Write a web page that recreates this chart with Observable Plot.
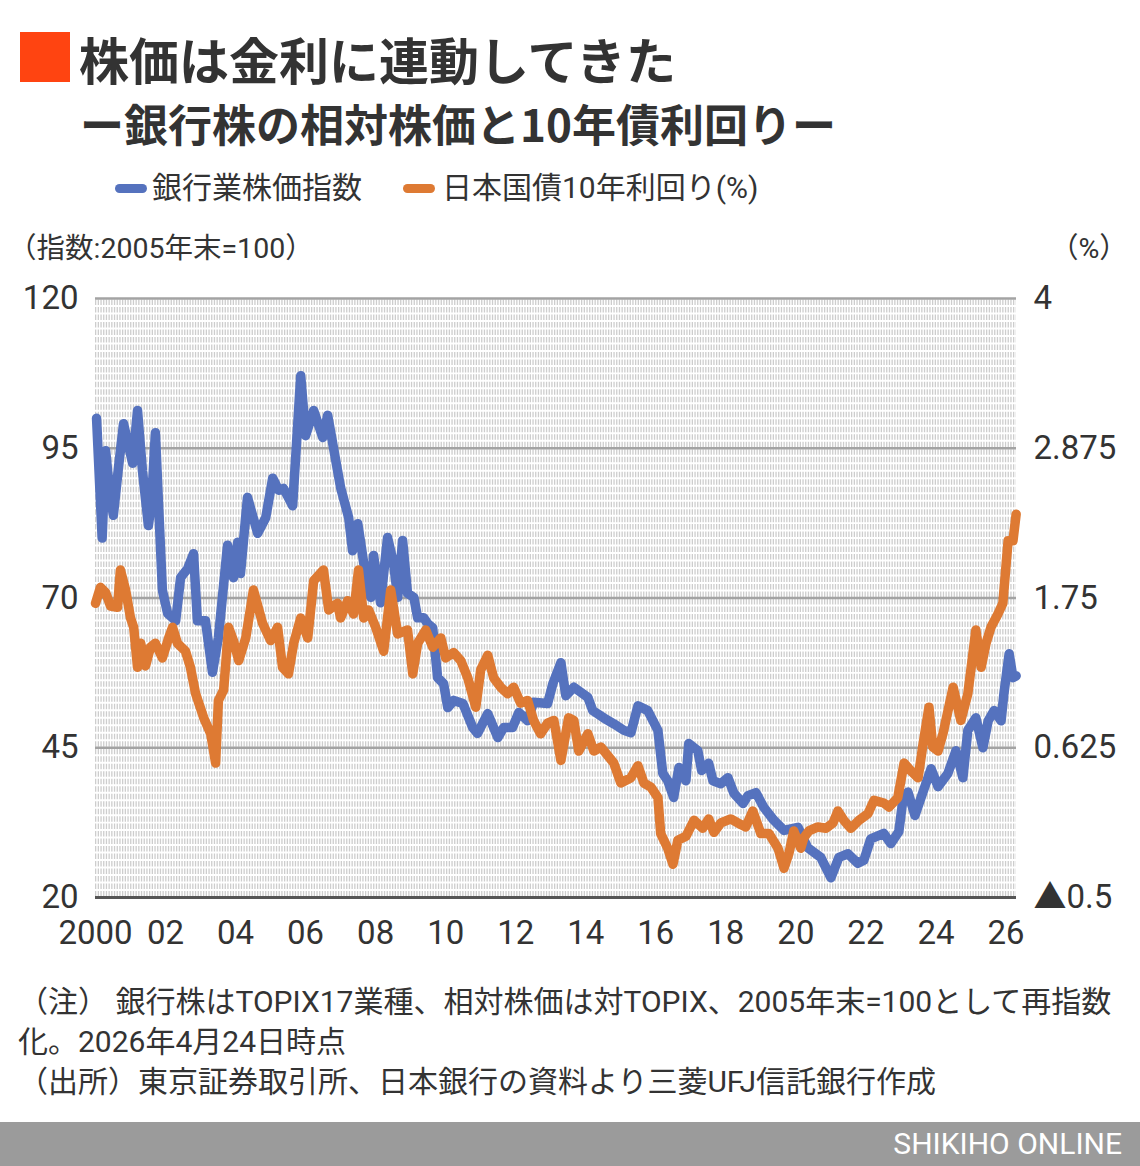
<!DOCTYPE html>
<html lang="ja">
<head>
<meta charset="utf-8">
<script src="https://cdn.jsdelivr.net/npm/d3@7"></script>
<script src="https://cdn.jsdelivr.net/npm/@observablehq/plot@0.6"></script>
<style>
  html, body { margin: 0; padding: 0; background: #fff; }
  body { width: 1140px; height: 1166px; overflow: hidden; font-family: Roboto, "Noto Sans CJK JP", sans-serif; color: #333; }
  #wrap { position: relative; width: 1140px; height: 1166px; }
  .abs { position: absolute; white-space: nowrap; }
  #sq { left: 20px; top: 32px; width: 50px; height: 50px; background: #FF4411; }
  #title { left: 79px; top: 30px; font-size: 50px; line-height: 56px; font-weight: 700; color: #333; font-family: "Noto Sans CJK JP", sans-serif; }
  #subtitle { left: 80px; top: 97px; font-size: 44px; line-height: 52px; font-weight: 700; color: #333; font-family: "Noto Sans CJK JP", sans-serif; }
  .leg { top: 170px; font-size: 30px; line-height: 36px; color: #333; }
  .sw { position: absolute; height: 9px; border-radius: 5px; top: 184px; }
  .axt { top: 231px; font-size: 28.5px; line-height: 36px; color: #333; }
  #chart { left: 0; top: 270px; }
  .note { left: 18px; font-size: 30px; line-height: 38px; color: #333; }
  #footer { left: 0; top: 1122px; width: 1140px; height: 44px; background: #9b9b9b; }
  #brand { right: 18px; top: 1124px; font-size: 30px; line-height: 40px; color: #fff; }
</style>
</head>
<body>
<div id="wrap">
  <div id="sq" class="abs"></div>
  <div id="title" class="abs">株価は金利に連動してきた</div>
  <div id="subtitle" class="abs">ー銀行株の相対株価と10年債利回りー</div>
  <div class="sw" style="left:115px;width:32px;background:#5572BE"></div>
  <div class="abs leg" style="left:152px">銀行業株価指数</div>
  <div class="sw" style="left:403px;width:32px;background:#DE7A33"></div>
  <div class="abs leg" style="left:442px">日本国債10年利回り(%)</div>
  <div class="abs axt" style="left:8px">（指数:2005年末=100）</div>
  <div class="abs axt" style="left:1050px">（%）</div>
  <div id="chart" class="abs"></div>
  <div class="abs note" style="top:983px">（注） 銀行株はTOPIX17業種、相対株価は対TOPIX、2005年末=100として再指数</div>
  <div class="abs note" style="top:1023px">化。2026年4月24日時点</div>
  <div class="abs note" style="top:1063px">（出所）東京証券取引所、日本銀行の資料より三菱UFJ信託銀行作成</div>
  <div id="footer" class="abs"></div>
  <div id="brand" class="abs">SHIKIHO ONLINE</div>
</div>
<script>
// ---- data ----
const blueDates = [2000.03,2000.19,2000.29,2000.40,2000.51,2000.66,2000.80,2001.06,2001.20,2001.34,2001.51,2001.60,2001.71,2001.91,2002.06,2002.29,2002.43,2002.63,2002.80,2002.91,2003.14,2003.34,2003.51,2003.77,2003.94,2004.06,2004.14,2004.34,2004.63,2004.86,2005.06,2005.23,2005.37,2005.63,2005.86,2006.00,2006.23,2006.49,2006.63,2007.00,2007.23,2007.34,2007.49,2007.66,2007.86,2007.94,2008.14,2008.34,2008.51,2008.63,2008.77,2008.91,2009.09,2009.20,2009.37,2009.49,2009.63,2009.77,2009.94,2010.06,2010.23,2010.49,2010.77,2010.91,2011.20,2011.49,2011.66,2011.91,2012.09,2012.34,2012.51,2012.91,2013.06,2013.29,2013.43,2013.66,2014.06,2014.20,2014.51,2014.80,2015.09,2015.29,2015.49,2015.77,2016.06,2016.20,2016.34,2016.51,2016.66,2016.86,2016.94,2017.20,2017.31,2017.51,2017.63,2017.86,2018.06,2018.23,2018.49,2018.63,2018.86,2019.09,2019.37,2019.66,2020.06,2020.34,2020.71,2021.00,2021.23,2021.49,2021.77,2021.94,2022.14,2022.51,2022.71,2022.94,2023.06,2023.20,2023.40,2023.63,2023.86,2024.06,2024.34,2024.57,2024.77,2024.91,2025.14,2025.34,2025.49,2025.66,2025.86,2025.94,2026.09,2026.20,2026.29];
const blueIndex = [100,80,94.6,88,83.8,92,99.1,92.5,101.3,91.3,82.1,86,97.6,71.3,67.4,66.2,73.4,74.9,77.4,66.2,66.2,57.6,63.4,78.8,73.4,79.3,74.1,86.8,80.8,83.4,90,88,88.3,85.4,107.1,97.1,101.3,96.8,100.5,88.4,83.4,77.9,82.4,75.8,70.1,77.1,69.2,80.1,75.8,70.1,79.6,70.8,70.1,66.7,66.7,65.7,65,56.7,55.7,51.7,52.9,52.4,48.4,47.4,50.7,46.7,48.4,48.4,50.9,49.5,52.6,52.4,55.7,59.2,53.7,55.1,53.4,51.2,50,49,47.9,47.5,52,51.2,47.9,40.7,39.5,36.7,41.7,39.5,45.7,44.5,41.2,42.4,39.5,39,40,37.4,35.7,37,37.5,35,32.9,31.2,31.7,28.3,26.7,23.3,26.7,27.3,25.7,26.2,29.8,30.7,29,31,36.5,37.6,33.7,37.6,41.5,38.5,40.7,44.5,40,47.9,50,45,49.5,51.2,49.5,54,60.7,56.7,57];

const jgbDates = [2000.00,2000.14,2000.29,2000.43,2000.63,2000.71,2000.86,2001.00,2001.09,2001.20,2001.29,2001.43,2001.57,2001.71,2001.91,2002.09,2002.20,2002.34,2002.57,2002.71,2002.86,2003.09,2003.29,2003.43,2003.51,2003.66,2003.80,2003.94,2004.09,2004.29,2004.51,2004.77,2005.00,2005.20,2005.34,2005.51,2005.66,2005.86,2006.06,2006.23,2006.51,2006.66,2006.91,2007.00,2007.20,2007.37,2007.51,2007.66,2007.80,2008.00,2008.23,2008.43,2008.63,2008.91,2009.06,2009.20,2009.43,2009.63,2009.86,2010.00,2010.23,2010.43,2010.63,2010.86,2011.00,2011.20,2011.37,2011.57,2011.77,2011.94,2012.14,2012.34,2012.51,2012.71,2012.91,2013.09,2013.29,2013.51,2013.66,2013.80,2014.06,2014.23,2014.43,2014.80,2015.00,2015.29,2015.49,2015.66,2015.86,2016.06,2016.14,2016.34,2016.49,2016.63,2016.86,2017.09,2017.34,2017.51,2017.66,2017.86,2018.14,2018.34,2018.57,2018.77,2019.00,2019.23,2019.49,2019.66,2019.80,2019.94,2020.14,2020.23,2020.37,2020.63,2020.86,2021.06,2021.20,2021.37,2021.57,2021.80,2022.06,2022.23,2022.51,2022.66,2022.91,2023.09,2023.29,2023.49,2023.63,2023.80,2023.91,2024.06,2024.20,2024.49,2024.71,2024.91,2025.14,2025.29,2025.43,2025.57,2025.77,2025.91,2026.06,2026.20,2026.29];
const jgbYield = [1.71,1.83,1.79,1.69,1.68,1.96,1.81,1.60,1.53,1.23,1.41,1.24,1.38,1.41,1.30,1.45,1.53,1.41,1.35,1.23,1.03,0.85,0.73,0.51,0.98,1.06,1.53,1.43,1.28,1.45,1.81,1.56,1.43,1.53,1.23,1.18,1.41,1.60,1.45,1.88,1.96,1.66,1.71,1.60,1.73,1.63,1.96,1.60,1.66,1.53,1.35,1.81,1.48,1.51,1.18,1.41,1.51,1.38,1.45,1.30,1.34,1.28,1.15,0.93,1.21,1.32,1.15,1.08,1.03,1.08,0.96,0.98,0.83,0.73,0.81,0.83,0.53,0.85,0.83,0.60,0.73,0.60,0.63,0.51,0.36,0.40,0.49,0.36,0.33,0.25,-0.02,-0.13,-0.25,-0.07,-0.04,0.08,0.02,0.09,-0.01,0.06,0.09,0.06,0.03,0.15,-0.02,-0.02,-0.13,-0.28,-0.17,0.00,-0.13,-0.05,0.00,0.03,0.02,0.06,0.15,0.08,0.02,0.08,0.13,0.23,0.21,0.18,0.25,0.51,0.45,0.40,0.65,0.93,0.63,0.60,0.73,1.08,0.83,1.03,1.51,1.23,1.41,1.53,1.63,1.71,2.18,2.18,2.38];

const leftTicks = [20, 45, 70, 95, 120];
const rightTickLabels = ["▲0.5", "0.625", "1.75", "2.875", "4"];
const xTicks = [2000, 2002, 2004, 2006, 2008, 2010, 2012, 2014, 2016, 2018, 2020, 2022, 2024, 2026];
const xTickLabels = ["2000", "02", "04", "06", "08", "10", "12", "14", "16", "18", "20", "22", "24", "26"];

// right axis (%) mapped onto the left index scale: 20 ↔ -0.5%, 120 ↔ 4%
const rightMin = -0.5, rightMax = 4, leftMin = 20, leftMax = 120;
const toLeft = r => leftMin + (r - rightMin) * (leftMax - leftMin) / (rightMax - rightMin);

const blueData = blueDates.map((d, i) => ({date: d, value: blueIndex[i]}));
const jgbData = jgbDates.map((d, i) => ({date: d, value: toLeft(jgbYield[i])}));
const minorBands = d3.range(0, 80).map(k => leftMin + 1.25 * (k + 0.5));

const chart = Plot.plot({
  width: 1140,
  height: 700,
  marginTop: 28,
  marginBottom: 73,
  marginLeft: 95,
  marginRight: 124,
  style: {fontFamily: "Roboto, 'Noto Sans CJK JP', sans-serif", fontSize: "33px", color: "#333", background: "transparent"},
  x: {domain: [2000, 2026.3]},
  y: {domain: [leftMin, leftMax]},
  marks: [
    Plot.ruleY(minorBands, {stroke: "#cdcdcd", strokeWidth: 5.5, strokeDasharray: "1.3,1.4"}),
    Plot.ruleY(leftTicks.filter(t => t !== leftMin), {stroke: "#a3a3a3", strokeWidth: 2.5}),
    Plot.ruleY([leftMin], {stroke: "#555", strokeWidth: 3}),
    Plot.line(blueData, {x: "date", y: "value", stroke: "#5572BE", strokeWidth: 9.5, strokeLinejoin: "round", strokeLinecap: "round"}),
    Plot.line(jgbData, {x: "date", y: "value", stroke: "#DE7A33", strokeWidth: 9.5, strokeLinejoin: "round", strokeLinecap: "round"}),
    Plot.axisY({anchor: "left", ticks: leftTicks, tickSize: 0, tickPadding: 17, label: null, fontSize: 33}),
    Plot.axisY({anchor: "right", ticks: leftTicks, tickSize: 0, tickPadding: 17, label: null, fontSize: 33,
      tickFormat: v => rightTickLabels[leftTicks.indexOf(v)]}),
    Plot.axisX({ticks: xTicks, tickSize: 0, tickPadding: 23, label: null, fontSize: 33,
      tickFormat: v => xTickLabels[xTicks.indexOf(v)]})
  ]
});
document.getElementById("chart").appendChild(chart);
</script>
</body>
</html>
